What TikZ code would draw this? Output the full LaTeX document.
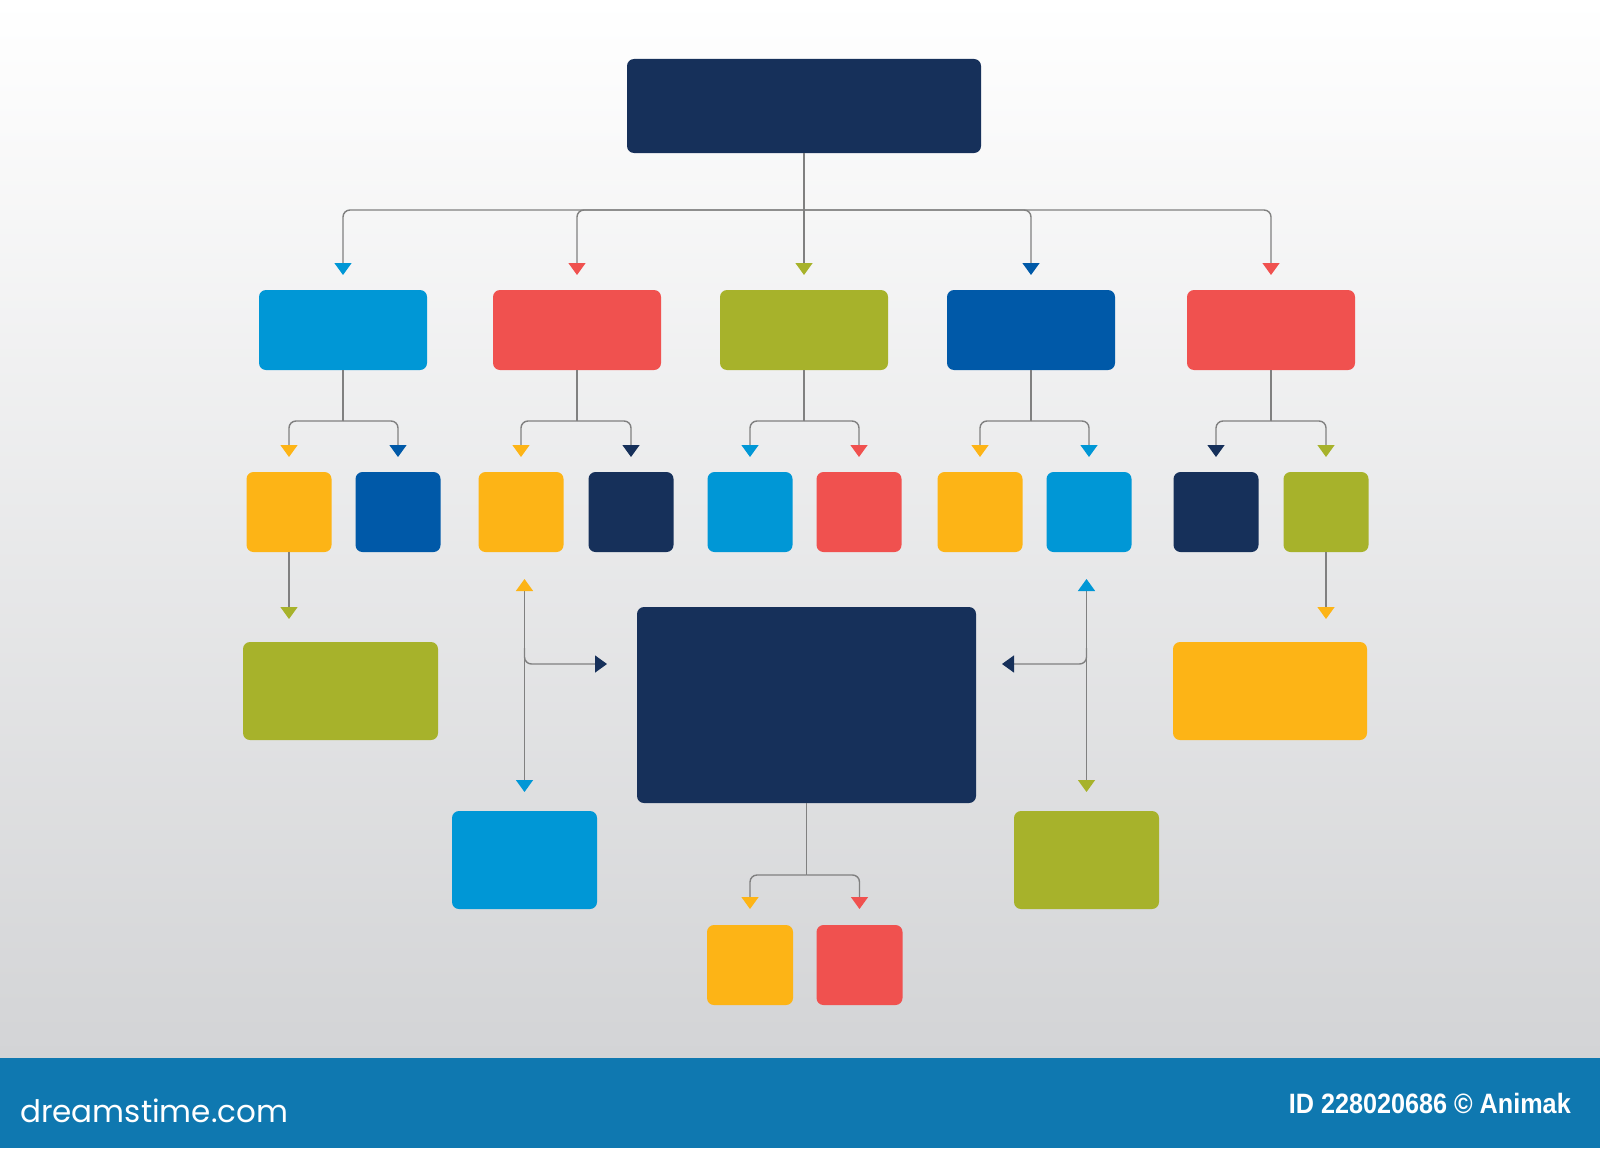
\documentclass[tikz,border=0pt]{standalone}
\usepackage{fontspec}
\usepackage{graphicx}
\usetikzlibrary{arrows.meta,calc}
\newfontfamily\logofont{Poppins}
\newfontfamily\idfont{Liberation Sans}
\definecolor{navyc}{HTML}{16305A}
\definecolor{cyanc}{HTML}{0097D6}
\definecolor{redc}{HTML}{F0514F}
\definecolor{greenc}{HTML}{A7B22B}
\definecolor{bluec}{HTML}{0059A8}
\definecolor{yellowc}{HTML}{FDB416}
\definecolor{linec}{HTML}{808080}
\definecolor{barc}{HTML}{0F78B0}
\definecolor{bgtop}{HTML}{FFFFFF}
\definecolor{bgmid}{HTML}{EEEEEF}
\definecolor{bgbot}{HTML}{D3D4D6}
\tikzset{
  box/.style={rectangle, draw=none, inner sep=0pt, outer sep=0pt, rounded corners=7pt},
  wide/.style={box, minimum width=168pt, minimum height=80pt},
  small/.style={box, minimum width=85pt, minimum height=80pt},
  conn/.style={draw=linec, line width=1.4pt, rounded corners=7pt},
  tocy/.style={-{Triangle[width=17pt,length=12pt,color=cyanc,fill=cyanc]}},
  tored/.style={-{Triangle[width=17pt,length=12pt,color=redc,fill=redc]}},
  togr/.style={-{Triangle[width=17pt,length=12pt,color=greenc,fill=greenc]}},
  tobl/.style={-{Triangle[width=17pt,length=12pt,color=bluec,fill=bluec]}},
  toye/.style={-{Triangle[width=17pt,length=12pt,color=yellowc,fill=yellowc]}},
  tona/.style={-{Triangle[width=17pt,length=12pt,color=navyc,fill=navyc]}},
}
\begin{document}
\begin{tikzpicture}[x=1pt,y=-1pt]
\useasboundingbox (0,0) rectangle (1600,1148);
% background
\shade[top color=bgtop, middle color=bgmid, bottom color=bgbot] (0,0) rectangle (1600,1058);
\fill[barc] (0,1058) rectangle (1600,1148);
\node[anchor=base west, text=white, inner sep=0pt, font=\logofont\fontsize{31}{31}\selectfont] (logo) at (20,1122) {dreamstime.com};
\node[anchor=base east, text=white, inner sep=0pt, font=\idfont\bfseries\fontsize{28}{28}\selectfont] (idtxt) at (1571,1113) {\scalebox{0.9}[1]{ID 228020686 © Animak}};

% boxes
\node[box, fill=navyc, minimum width=354pt, minimum height=94pt] (top) at (804,106) {};
\node[wide, fill=cyanc] (A) at (343,330) {};
\node[wide, fill=redc] (B) at (577,330) {};
\node[wide, fill=greenc] (C) at (804,330) {};
\node[wide, fill=bluec] (D) at (1031,330) {};
\node[wide, fill=redc] (E) at (1271,330) {};

\node[small, fill=yellowc] (A1) at (289,512) {};
\node[small, fill=bluec] (A2) at (398,512) {};
\node[small, fill=yellowc] (B1) at (521,512) {};
\node[small, fill=navyc] (B2) at (631,512) {};
\node[small, fill=cyanc] (C1) at (750,512) {};
\node[small, fill=redc] (C2) at (859,512) {};
\node[small, fill=yellowc] (D1) at (980,512) {};
\node[small, fill=cyanc] (D2) at (1089,512) {};
\node[small, fill=navyc] (E1) at (1216,512) {};
\node[small, fill=greenc] (E2) at (1326,512) {};

\node[box, fill=greenc, minimum width=195pt, minimum height=98pt] (G1) at (340.5,691) {};
\node[box, fill=yellowc, minimum width=194pt, minimum height=98pt] (G2) at (1270,691) {};
\node[box, fill=navyc, minimum width=339pt, minimum height=196pt] (M) at (806.5,705) {};
\node[box, fill=cyanc, minimum width=145pt, minimum height=98pt] (LB) at (524.5,860) {};
\node[box, fill=greenc, minimum width=145pt, minimum height=98pt] (RB) at (1086.5,860) {};
\node[small, minimum width=86pt, fill=yellowc] (Y) at (750,965) {};
\node[small, minimum width=86pt, fill=redc] (R) at (859.5,965) {};

% top level connectors
\coordinate (bus) at ($(top.south)+(0,57)$);
\draw[conn, togr, shorten >=15pt] (top.south) -- (C.north);
\draw[conn, tocy, shorten >=15pt] (bus) -| (A.north);
\draw[conn, tored, shorten >=15pt] (bus) -| (B.north);
\draw[conn, tobl, shorten >=15pt] (bus) -| (D.north);
\draw[conn, tored, shorten >=15pt] (bus) -| (E.north);

% second level splits
\foreach \p/\l/\r/\tl/\tr in {A/A1/A2/toye/tobl, B/B1/B2/toye/tona, C/C1/C2/tocy/tored, D/D1/D2/toye/tocy, E/E1/E2/tona/togr}{
  \coordinate (s\p) at ($(\p.south)+(0,51)$);
  \draw[conn] (\p.south) -- (s\p);
  \draw[conn, \tl, shorten >=15pt] (s\p) -| (\l.north);
  \draw[conn, \tr, shorten >=15pt] (s\p) -| (\r.north);
}

% down to wide lower boxes
\draw[conn, togr, shorten >=23pt] (A1.south) -- (A1.south |- G1.north);
\draw[conn, toye, shorten >=23pt] (E2.south) -- (E2.south |- G2.north);

% left double arrow and branch into M
\coordinate (vL) at (LB.north |- B1.south);
\draw[conn, {Triangle[width=17pt,length=12pt,color=yellowc,fill=yellowc]}-{Triangle[width=17pt,length=12pt,color=cyanc,fill=cyanc]}, shorten <=27pt, shorten >=19pt] (vL) -- (LB.north);
\coordinate (jL) at ($(vL)+(0,96)$);
\coordinate (mL) at ($(M.north west)+(0,57)$);
\draw[conn, tona, shorten >=30pt] (jL) |- (mL);

% right double arrow and branch into M
\coordinate (vR) at (RB.north |- D2.south);
\draw[conn, {Triangle[width=17pt,length=12pt,color=cyanc,fill=cyanc]}-{Triangle[width=17pt,length=12pt,color=greenc,fill=greenc]}, shorten <=27pt, shorten >=19pt] (vR) -- (RB.north);
\coordinate (jR) at ($(vR)+(0,96)$);
\coordinate (mR) at ($(M.north east)+(0,57)$);
\draw[conn, tona, shorten >=26pt] (jR) |- (mR);

% bottom split
\coordinate (sM) at ($(M.south)+(0,72)$);
\draw[conn] (M.south) -- (sM);
\draw[conn, toye, shorten >=16pt] (sM) -| (Y.north);
\draw[conn, tored, shorten >=16pt] (sM) -| (R.north);
\end{tikzpicture}
\end{document}
